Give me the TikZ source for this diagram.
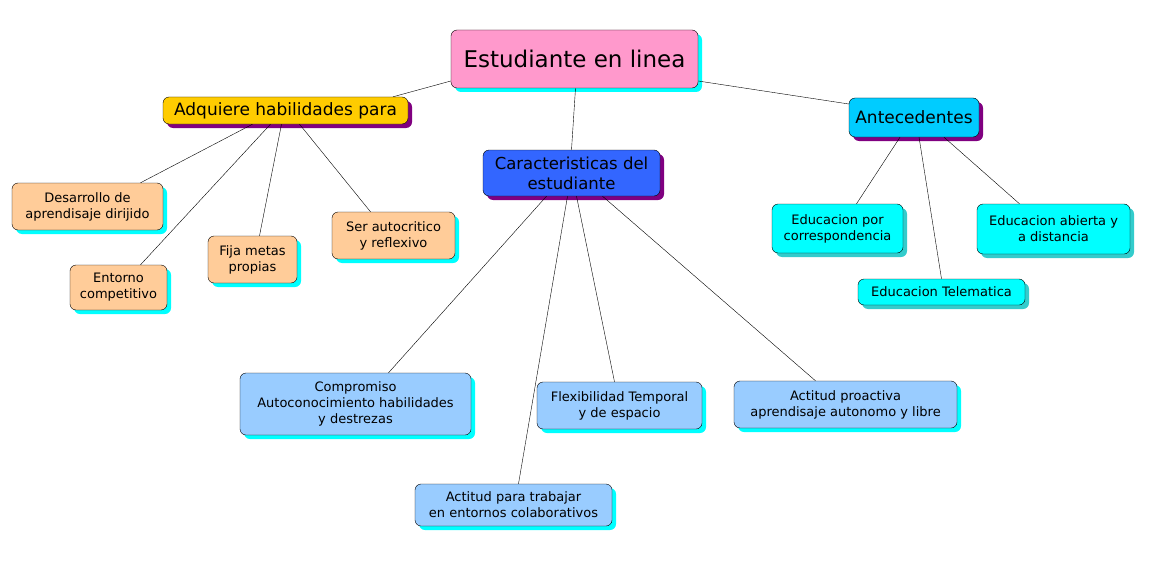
\documentclass[tikz,border=0pt]{standalone}
\usepackage{fontspec}
\setmainfont{DejaVu Sans}
\usetikzlibrary{shadows}
\definecolor{pinkc}{HTML}{FF99CC}
\definecolor{yel}{HTML}{FFCC00}
\definecolor{blu}{HTML}{3366FF}
\definecolor{sky}{HTML}{00CCFF}
\definecolor{peach}{HTML}{FFCC99}
\definecolor{lblue}{HTML}{99CCFF}
\definecolor{cyanc}{HTML}{00FFFF}
\definecolor{purp}{HTML}{800080}
\definecolor{shcy}{HTML}{33CCCC}
\begin{document}
\begin{tikzpicture}[x=1pt,y=-1pt,
 box/.style={draw=black,rounded corners=6pt,align=center,inner sep=2pt,font=\fontsize{13}{16}\selectfont},
 sc/.style={drop shadow={shadow xshift=4pt,shadow yshift=-4pt,fill=cyanc,opacity=1}},
 sp/.style={drop shadow={shadow xshift=4pt,shadow yshift=-4pt,fill=purp,opacity=1}},
 sg/.style={drop shadow={shadow xshift=4pt,shadow yshift=-4pt,fill=shcy,opacity=1}},
 bx/.style 2 args={minimum width=#1,minimum height=#2}]
\useasboundingbox (0,0) rectangle (1155,583);
\fill[white] (0,0) rectangle (1155,583);
% nodes
\node[box,sc,fill=pinkc,bx={247pt}{58pt},font=\fontsize{23}{27}\selectfont] (root) at (574.5,59) {Estudiante en linea};
\node[box,sp,fill=yel,bx={245pt}{27pt},font=\fontsize{17}{20}\selectfont] (adq) at (285.5,110.5) {Adquiere habilidades para};
\node[box,sp,fill=blu,bx={177pt}{46pt},font=\fontsize{16.5}{20}\selectfont] (car) at (571.5,173) {Caracteristicas del\\estudiante};
\node[box,sp,fill=sky,bx={130pt}{39pt},font=\fontsize{17}{20}\selectfont] (ant) at (914,117.5) {Antecedentes};
\node[box,sc,fill=peach,bx={151pt}{47pt}] (des) at (87.5,206.5) {Desarrollo de\\aprendisaje dirijido};
\node[box,sc,fill=peach,bx={97pt}{45pt}] (ent) at (118.5,287.5) {Entorno\\competitivo};
\node[box,sc,fill=peach,bx={89pt}{47pt}] (fij) at (252.5,259.5) {Fija metas\\propias};
\node[box,sc,fill=peach,bx={123pt}{47pt}] (ser) at (393.5,235.5) {Ser autocritico\\y reflexivo};
\node[box,sc,fill=lblue,bx={231pt}{62pt}] (com) at (355.5,404) {Compromiso\\Autoconocimiento habilidades\\y destrezas};
\node[box,sc,fill=lblue,bx={197pt}{42pt}] (act) at (513.5,505) {Actitud para trabajar\\en entornos colaborativos};
\node[box,sc,fill=lblue,bx={165pt}{47pt}] (fle) at (619.5,405.5) {Flexibilidad Temporal\\y de espacio};
\node[box,sc,fill=lblue,bx={223pt}{47pt}] (pro) at (845.5,404.5) {Actitud proactiva\\aprendisaje autonomo y libre};
\node[box,sg,fill=cyanc,bx={131pt}{49pt}] (cor) at (837.5,228.5) {Educacion por\\correspondencia};
\node[box,sg,fill=cyanc,bx={167pt}{26pt}] (tel) at (941.5,292) {Educacion Telematica};
\node[box,sg,fill=cyanc,bx={153pt}{50pt}] (abi) at (1053.5,229) {Educacion abierta y\\a distancia};
% connectors
\coordinate (r1) at (451,81); \coordinate (a0) at (393,97);
\draw (root.west |- r1) -- (adq.north east -| a0);
\draw ([xshift=1pt]root.south) -- (car.north);
\draw (root.east |- 0,81) -- (ant.north west |- 0,104);
\draw ([xshift=-33pt]adq.south) -- ([xshift=53pt]des.north);
\draw ([xshift=-15pt]adq.south) -- ([xshift=22pt]ent.north);
\draw ([xshift=-4pt]adq.south) -- ([xshift=7pt]fij.north);
\draw ([xshift=14pt]adq.south) -- ([xshift=-23pt]ser.north);
\draw ([xshift=-25pt]car.south) -- ([xshift=33pt]com.north);
\draw ([xshift=-4pt]car.south) -- ([xshift=5pt]act.north);
\draw ([xshift=5pt]car.south) -- ([xshift=-5pt]fle.north);
\draw ([xshift=31pt]car.south) -- ([xshift=-30pt]pro.north);
\draw ([xshift=-14pt]ant.south) -- ([xshift=19pt]cor.north);
\draw ([xshift=5pt]ant.south) -- (tel.north);
\draw ([xshift=30pt]ant.south) -- ([xshift=-34pt]abi.north);
\end{tikzpicture}
\end{document}
